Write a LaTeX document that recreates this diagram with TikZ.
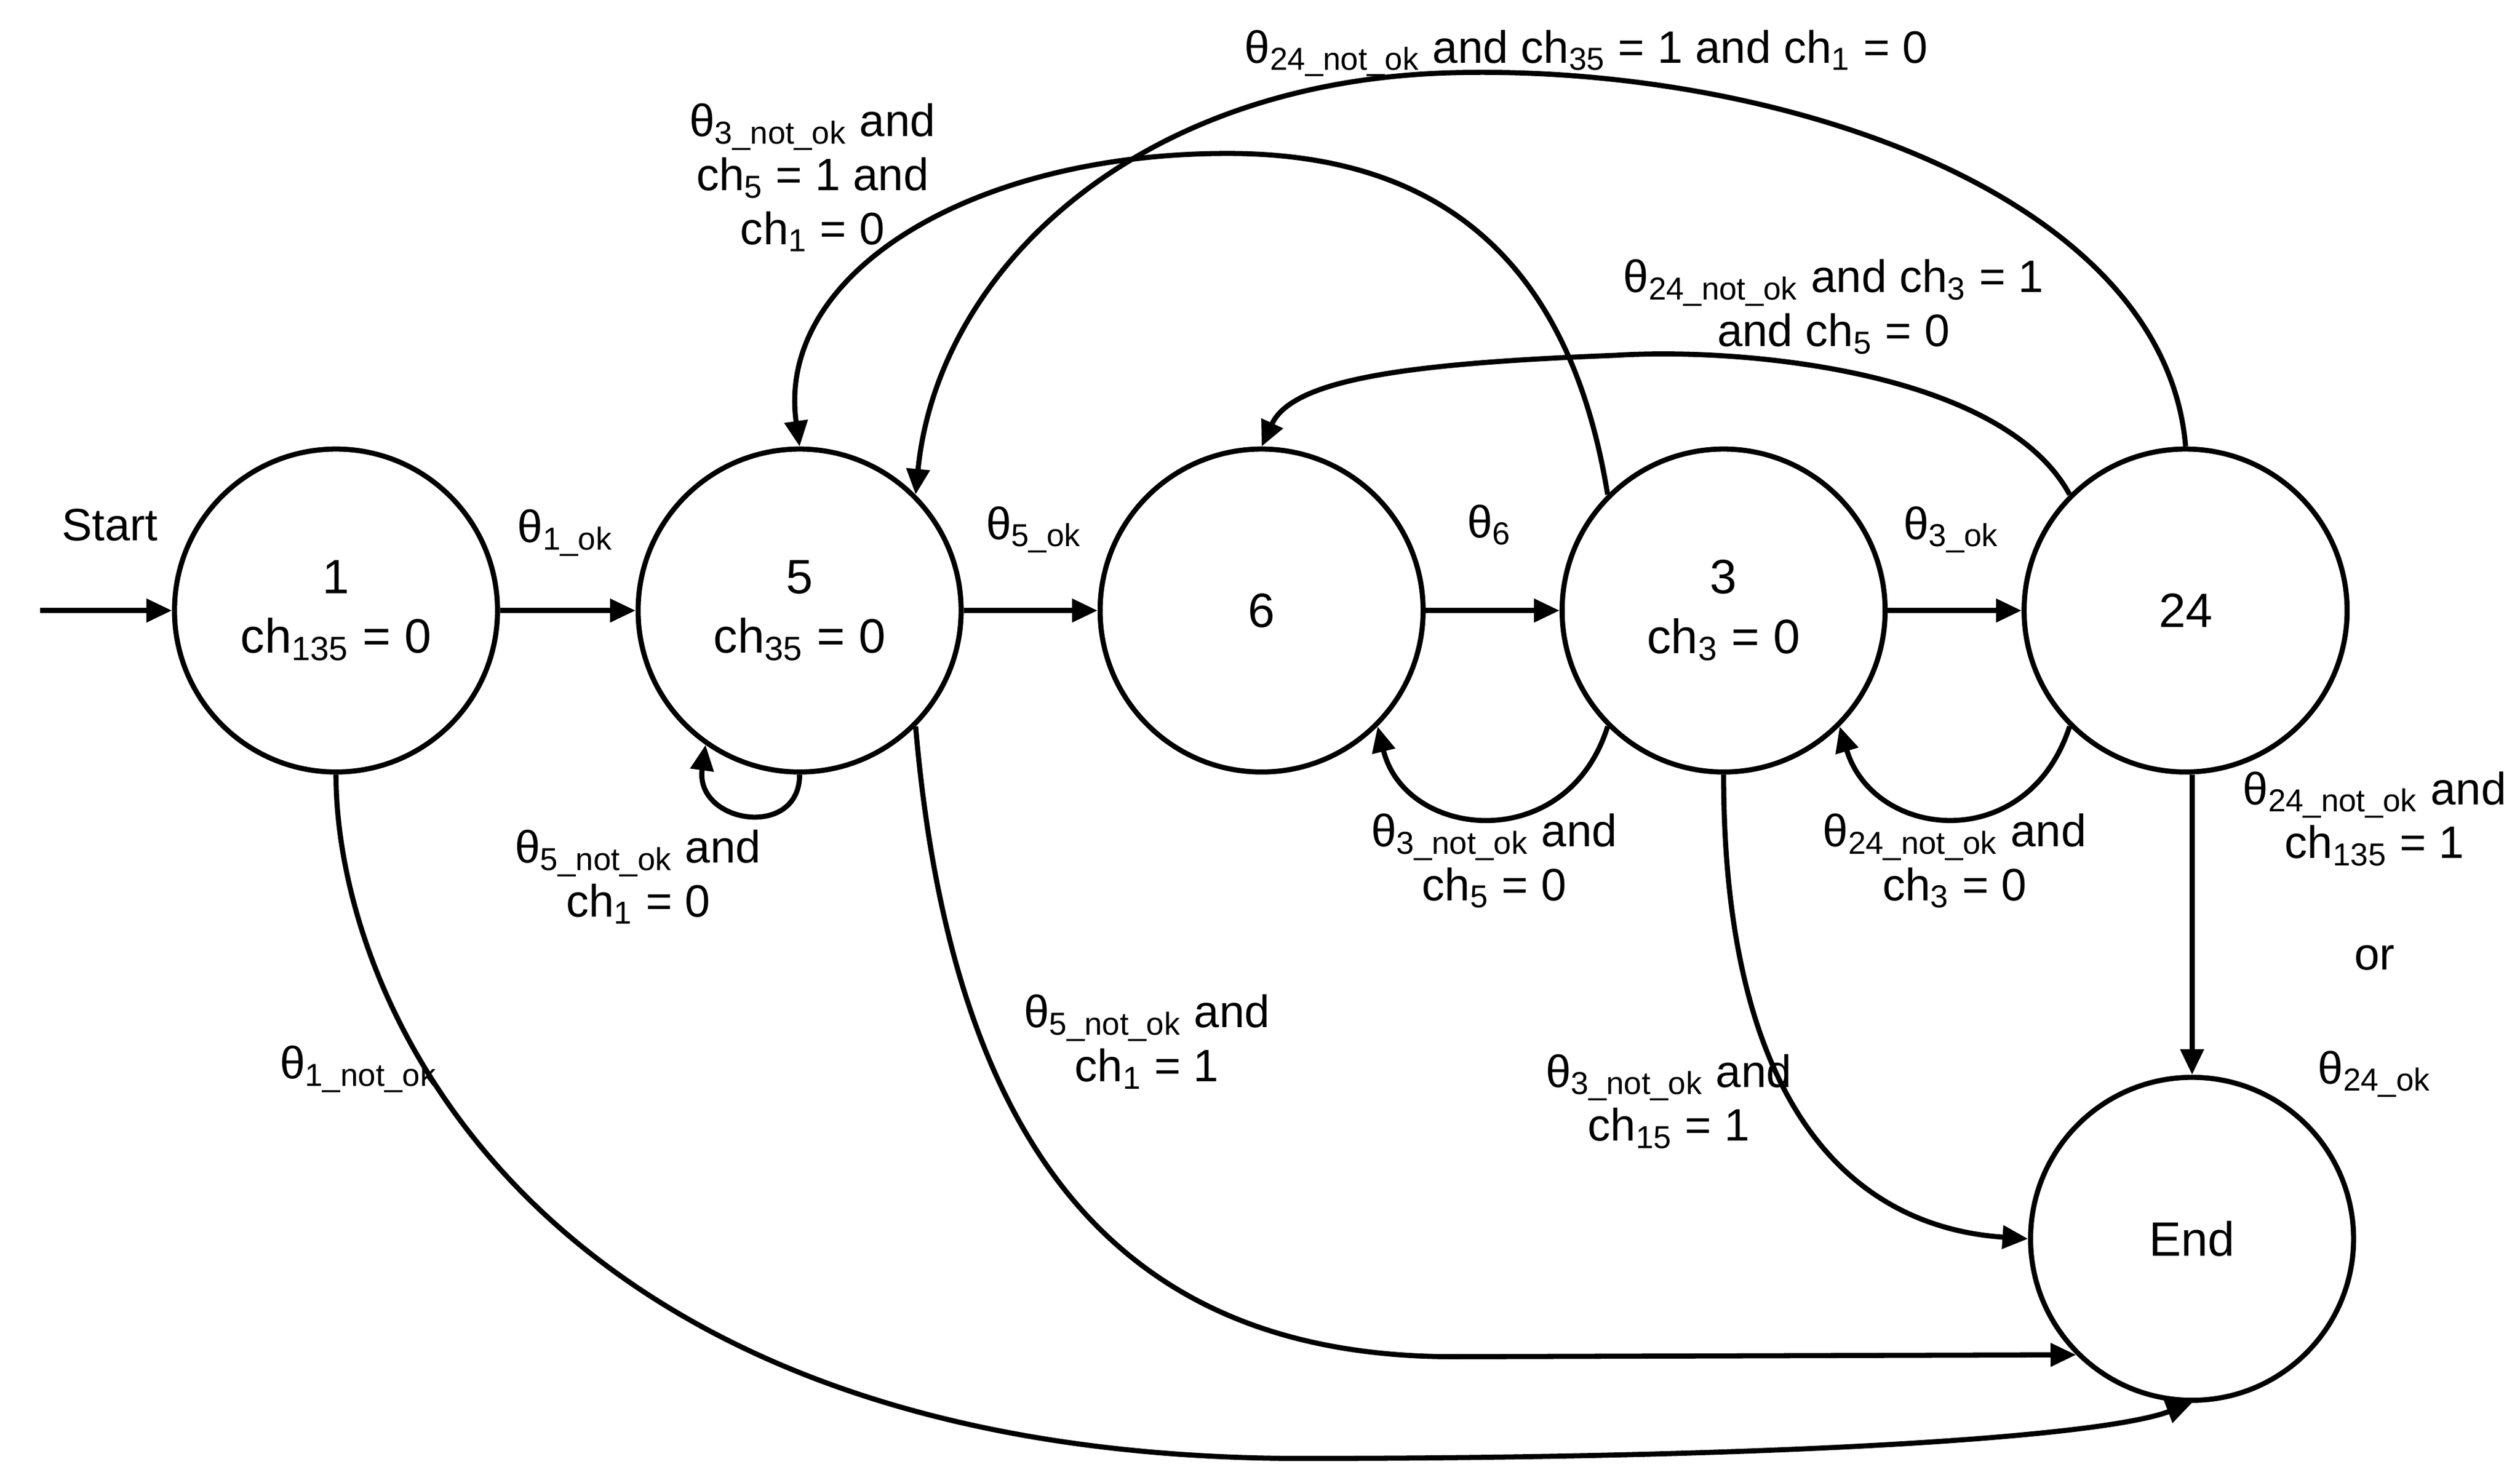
\documentclass[tikz,border=0pt]{standalone}
\usepackage{fontspec}
\setmainfont{Liberation Sans}
\usetikzlibrary{arrows.meta}
\newcommand{\mysb}[1]{\textsubscript{#1}}
\begin{document}
\begin{tikzpicture}[x=0.02cm,y=-0.02cm,
  st/.style={circle,draw,line width=1.8pt,minimum size=4.0cm,inner sep=0pt,align=center,font=\fontsize{17}{21}\selectfont},
  ed/.style={line width=1.8pt,-{Triangle[length=9pt,width=8pt]}},
  lb/.style={align=center,font=\fontsize{16}{19}\selectfont}]
\useasboundingbox (0,0) rectangle (1560,913);
\node[st] (n1) at (208,378) {1\\ch\mysb{135} = 0};
\node[st] (n5) at (495,378) {5\\ch\mysb{35} = 0};
\node[st] (n6) at (781,378) {6};
\node[st] (n3) at (1067,378) {3\\ch\mysb{3} = 0};
\node[st] (n24) at (1353,378) {24};
\node[st] (nE) at (1357,767) {End};
\coordinate (s) at (25,378);
\draw[ed] (s) -- (n1);
\node[lb] (ls) at (68,325) {Start};
\draw[ed] (n1) -- (n5); \node[lb] (l1) at (350,330) {θ\mysb{1\_ok}};
\draw[ed] (n5) -- (n6); \node[lb] (l2) at (640,328) {θ\mysb{5\_ok}};
\draw[ed] (n6) -- (n3); \node[lb] (l3) at (922,325) {θ\mysb{6}};
\draw[ed] (n3) -- (n24); \node[lb] (l4) at (1208,328) {θ\mysb{3\_ok}};
\draw[ed] (n24.south -| nE) -- (nE);
\node[lb] (l5) at (1470,507) {θ\mysb{24\_not\_ok} and\\ch\mysb{135} = 1};
\node[lb] (l6) at (1470,593) {or};
\node[lb] (l7) at (1470,665) {θ\mysb{24\_ok}};
\draw[ed] (n5.-90) .. controls (495,520) and (430,510) .. (n5.-125);
\node[lb] (l8) at (395,543) {θ\mysb{5\_not\_ok} and\\ch\mysb{1} = 0};
\draw[ed] (n3.-135) .. controls (970,530) and (870,520) .. (n6.-45);
\node[lb] (l9) at (925,533) {θ\mysb{3\_not\_ok} and\\ch\mysb{5} = 0};
\draw[ed] (n24.-135) .. controls (1255,530) and (1160,520) .. (n3.-45);
\node[lb] (l10) at (1210,533) {θ\mysb{24\_not\_ok} and\\ch\mysb{3} = 0};
\draw[ed] (n24.135) .. controls (1240,230) and (1080,215) .. (1000,220) .. controls (870,225) and (800,235) .. (n6.north);
\node[lb] (l11) at (1135,190) {θ\mysb{24\_not\_ok} and ch\mysb{3} = 1\\and ch\mysb{5} = 0};
\draw[ed] (n3.135) .. controls (970,150) and (880,95) .. (760,95) .. controls (600,95) and (480,170) .. (n5.north);
\node[lb] (l12) at (503,110) {θ\mysb{3\_not\_ok} and\\ch\mysb{5} = 1 and\\ch\mysb{1} = 0};
\draw[ed] (n24.north) .. controls (1340,120) and (1100,40) .. (900,45) .. controls (700,50) and (580,170) .. (n5.45);
\node[lb] (l13) at (982,33) {θ\mysb{24\_not\_ok} and ch\mysb{35} = 1 and ch\mysb{1} = 0};
\draw[ed] (n1.south) .. controls (208,620) and (330,900) .. (800,903) .. controls (1100,903) and (1300,890) .. (nE.-90);
\node[lb] (l14) at (222,662) {θ\mysb{1\_not\_ok}};
\draw[ed] (n5.-45) .. controls (590,720) and (700,840) .. (900,840) -- (nE.-135);
\node[lb] (l15) at (710,645) {θ\mysb{5\_not\_ok} and\\ch\mysb{1} = 1};
\draw[ed] (n3.south) .. controls (1067,690) and (1150,760) .. (nE.west);
\node[lb] (l16) at (1033,682) {θ\mysb{3\_not\_ok} and\\ch\mysb{15} = 1};
\end{tikzpicture}
\end{document}
